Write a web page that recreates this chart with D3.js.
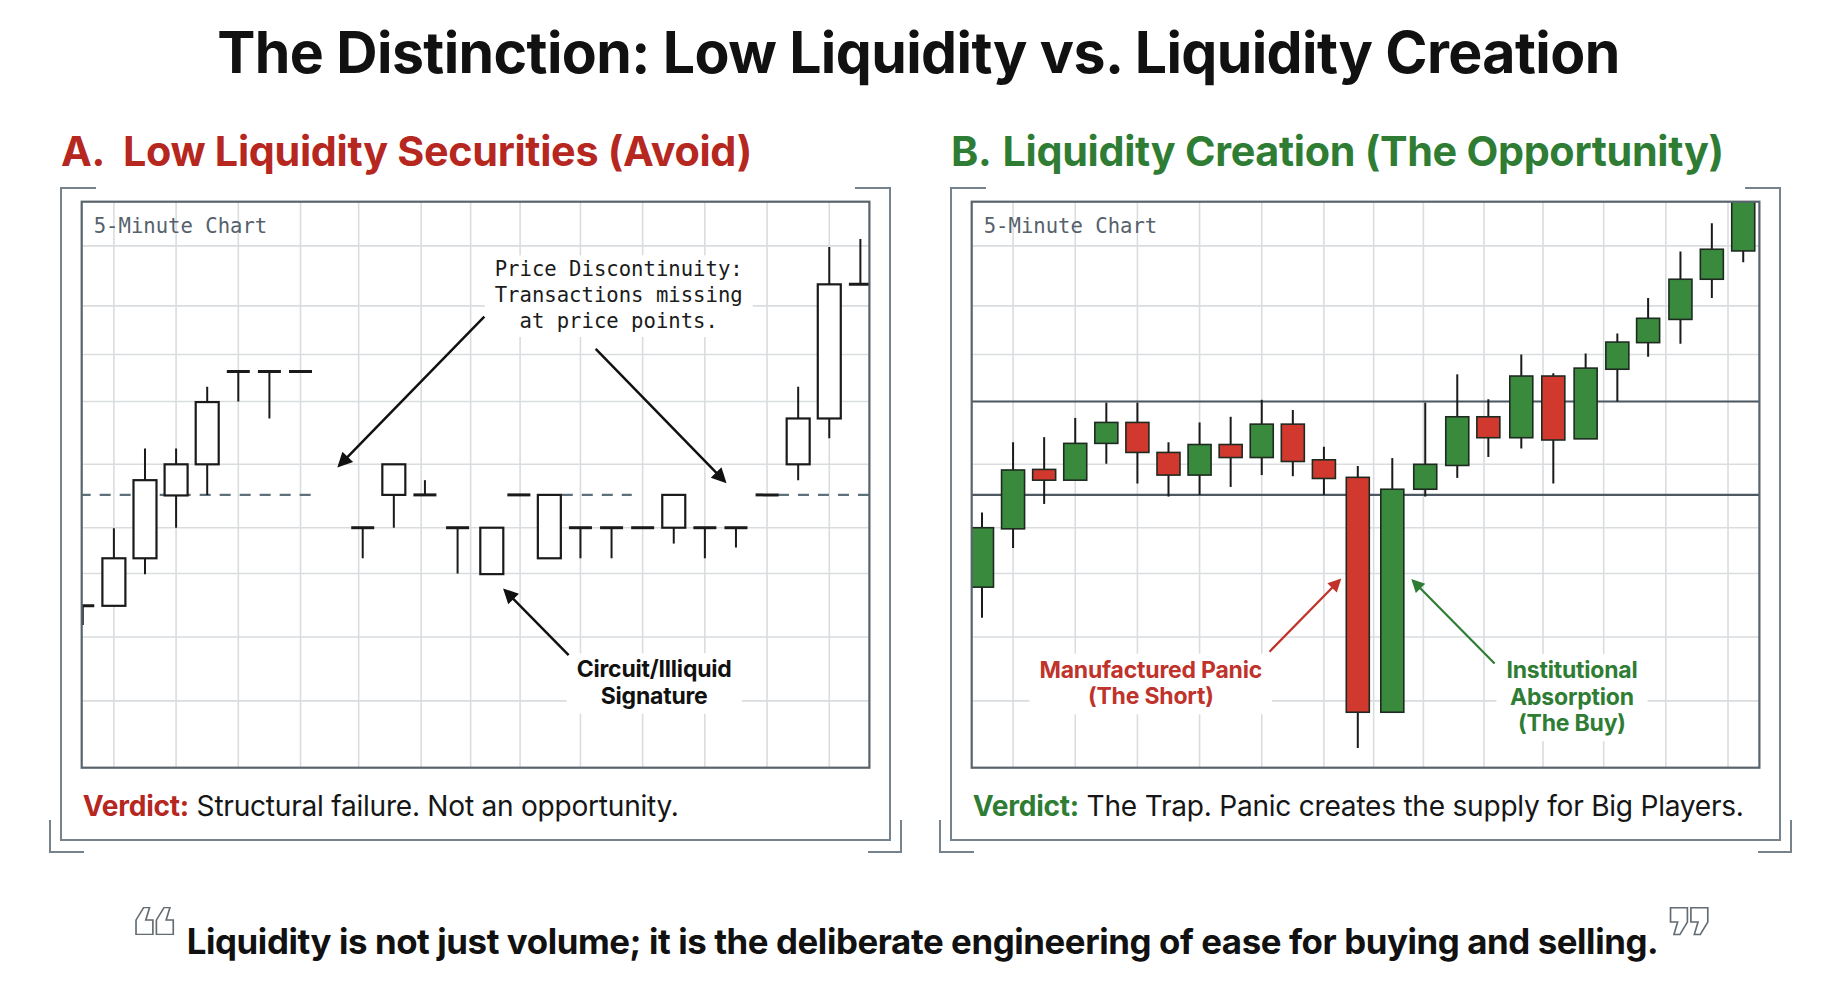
<!DOCTYPE html>
<html>
<head>
<meta charset="utf-8">
<script src="https://cdn.jsdelivr.net/npm/d3@7"></script>
<style>
  html, body { margin: 0; padding: 0; background: #fff; }
  svg { display: block; }
  svg text { font-family: Inter, Roboto, "Noto Sans", sans-serif; }
</style>
</head>
<body>
<div id="chart"></div>
<script>
// ---------- data ----------
var titleText = "The Distinction: Low Liquidity vs. Liquidity Creation";
var quoteText = "Liquidity is not just volume; it is the deliberate engineering of ease for buying and selling.";
var chartCaption = "5-Minute Chart";

// horizontal grid (price levels) shared by both panels
var priceTicks = [92.2, 81.6, 73.0, 64.7, 53.6, 42.4, 34.3, 23.1, 11.8];
// vertical grid (bar index) for each panel
var timeTicksA = [1, 3, 5, 7, 8.87, 10.88, 12.47, 14.06, 16, 18, 20, 22, 24];
var timeTicksB = [1, 3, 5, 7, 9, 11, 12.6, 14.2, 16.15, 18.05, 20, 22, 24];

// candles: [bar, open, high, low, close]
var lowLiqCandles = [
  [0, 28.6, 28.6, 25.2, 28.6],
  [1, 28.6, 42.3, 28.6, 37.0],
  [2, 37.0, 56.4, 34.2, 50.8],
  [3, 48.1, 56.4, 42.4, 53.6],
  [4, 53.6, 67.3, 48.2, 64.6],
  [5, 70.0, 70.0, 64.7, 70.0],
  [6, 70.0, 70.0, 61.7, 70.0],
  [7, 70.0, 70.0, 70.0, 70.0],
  [9, 42.4, 42.4, 37.0, 42.4],
  [10, 48.2, 53.6, 42.4, 53.6],
  [11, 48.2, 50.8, 48.2, 48.2],
  [12.05, 42.4, 42.4, 34.3, 42.4],
  [13.15, 42.4, 42.4, 34.2, 34.2],
  [14.02, 48.2, 48.2, 48.2, 48.2],
  [15, 48.2, 48.2, 37.0, 37.0],
  [16, 42.4, 42.4, 37.0, 42.4],
  [17, 42.4, 42.4, 37.0, 42.4],
  [18, 42.4, 42.4, 42.4, 42.4],
  [19, 42.4, 48.2, 39.6, 48.2],
  [20, 42.4, 42.4, 37.0, 42.4],
  [21, 42.4, 42.4, 38.9, 42.4],
  [22, 48.2, 48.2, 48.2, 48.2],
  [23, 53.6, 67.3, 50.8, 61.7],
  [24, 61.7, 92.0, 58.2, 85.4],
  [25, 85.4, 93.4, 85.4, 85.4]
];

var creationCandles = [
  [0, 31.9, 45.1, 26.5, 42.4],
  [1, 42.2, 57.5, 38.8, 52.6],
  [2, 52.7, 58.4, 46.6, 50.8],
  [3, 50.8, 61.8, 50.8, 57.3],
  [4, 57.3, 64.5, 53.7, 61.0],
  [5, 61.0, 64.5, 50.2, 55.7],
  [6, 55.7, 57.5, 47.9, 51.7],
  [7, 51.7, 61.0, 48.2, 57.1],
  [8, 57.1, 62.0, 49.6, 54.8],
  [9, 54.8, 65.0, 51.7, 60.7],
  [10, 60.7, 63.2, 51.5, 54.1],
  [11, 54.4, 56.7, 48.2, 51.1],
  [12.09, 51.3, 53.3, 3.5, 9.8],
  [13.2, 9.8, 54.7, 9.8, 49.2],
  [14.26, 49.2, 64.5, 47.9, 53.6],
  [15.29, 53.4, 69.5, 51.2, 62.0],
  [16.29, 62.0, 65.1, 54.9, 58.3],
  [17.35, 58.3, 73.0, 56.4, 69.2],
  [18.38, 69.2, 69.7, 50.2, 57.9],
  [19.42, 58.1, 73.2, 58.1, 70.6],
  [20.44, 70.4, 76.7, 64.7, 75.2],
  [21.43, 75.1, 83.0, 72.6, 79.4],
  [22.47, 79.2, 91.2, 74.9, 86.3],
  [23.48, 86.3, 96.2, 83.0, 91.6],
  [24.49, 91.3, 105, 89.3, 103]
];

// reference levels
var dashedLevel = 48.2;
var dashedSpans = [[-0.1, 7.45], [15.4, 17.65], [22.35, 25.4]];
var supportLevels = [64.7, 48.2];

// annotations: text lines anchored at [bar, price] (first baseline), arrows [from, to]
var labelsA = [
  { lines: ["Price Discontinuity:", "Transactions missing", "at price points."], at: [17.23, 86.8], kind: "mono", color: "#1b1b1b" },
  { lines: ["Circuit/Illiquid", "Signature"], at: [18.37, 16.0], kind: "bold", color: "#111" }
];
var arrowsA = [
  { from: [12.91, 79.7], to: [8.25, 53.4], color: "#111" },
  { from: [16.49, 74.0], to: [20.63, 50.65], color: "#111" },
  { from: [15.62, 19.9], to: [13.58, 31.3], color: "#111" }
];
var labelsB = [
  { lines: ["Manufactured Panic", "(The Short)"], at: [5.43, 15.9], kind: "bold", color: "#c0332b" },
  { lines: ["Institutional", "Absorption", "(The Buy)"], at: [18.98, 15.85], kind: "bold", color: "#2f7d34" }
];
var arrowsB = [
  { from: [9.25, 20.5], to: [11.5, 33.1], color: "#c0332b" },
  { from: [16.49, 18.4], to: [13.87, 33.0], color: "#2f7d34" }
];

// ---------- layout ----------
var W = 1837, H = 986;
var red = "#b5271f", green = "#2f7d34";
var innerTop = 201.7, innerBottom = 767.7;
var mono = "'DejaVu Sans Mono', monospace";

var panels = [
  { frameL: 61, frameR: 890, innerL: 81.7, innerR: 869.4, domain: [-0.035, 25.29],
    heading: ["A.", "Low Liquidity Securities (Avoid)"], headGap: 18, headColor: red,
    verdict: "Structural failure. Not an opportunity.",
    candles: lowLiqCandles, timeTicks: timeTicksA, labels: labelsA, arrows: arrowsA, hollow: true },
  { frameL: 951, frameR: 1780, innerL: 971.7, innerR: 1759.4, domain: [-0.331, 25.01],
    heading: ["B.", "Liquidity Creation (The Opportunity)"], headGap: 11, headColor: green,
    verdict: "The Trap. Panic creates the supply for Big Players.",
    candles: creationCandles, timeTicks: timeTicksB, labels: labelsB, arrows: arrowsB, hollow: false }
];

var svg = d3.select("#chart").append("svg")
  .attr("width", W).attr("height", H);

svg.append("rect").attr("width", W).attr("height", H).attr("fill", "#fff");

var defs = svg.append("defs");
["#111", "#c0332b", "#2f7d34"].forEach(function(c, i) {
  defs.append("marker")
    .attr("id", "arrow" + i)
    .attr("viewBox", "0 0 10 10")
    .attr("refX", 8).attr("refY", 5)
    .attr("markerWidth", 7).attr("markerHeight", 6)
    .attr("orient", "auto")
    .append("path")
    .attr("d", "M0,0 L10,5 L0,10 z")
    .attr("fill", c);
});
var markerFor = { "#111": "arrow0", "#c0332b": "arrow1", "#2f7d34": "arrow2" };

// main title
svg.append("text")
  .attr("x", W / 2).attr("y", 73)
  .attr("text-anchor", "middle")
  .attr("font-size", 57.2).attr("font-weight", 700)
  .attr("letter-spacing", -0.6)
  .attr("fill", "#111")
  .text(titleText);

var y = d3.scaleLinear().domain([0, 100]).range([innerBottom, innerTop]);

panels.forEach(function(P, pi) {
  var g = svg.append("g");
  var x = d3.scaleLinear().domain(P.domain).range([P.innerL, P.innerR]);

  // heading
  var head = g.append("text")
    .attr("x", P.frameL).attr("y", 166)
    .attr("font-size", 41.3).attr("font-weight", 700)
    .attr("letter-spacing", -0.3)
    .attr("fill", P.headColor);
  head.append("tspan").text(P.heading[0]);
  head.append("tspan").attr("dx", P.headGap).text(P.heading[1]);

  // outer frame: sides, bottom, top corner ticks, outside corner brackets
  var frame = g.append("g").attr("fill", "none").attr("stroke", "#77838c").attr("stroke-width", 2);
  frame.append("path").attr("d",
    "M" + (P.frameL + 35) + ",188 H" + P.frameL + " V840 H" + P.frameR + " V188 H" + (P.frameR - 35));
  frame.append("path").attr("d",
    "M" + (P.frameL - 11) + ",820 V852 H" + (P.frameL + 23));
  frame.append("path").attr("d",
    "M" + (P.frameR + 11) + ",820 V852 H" + (P.frameR - 22));

  // inner chart area
  var clipId = "clip" + pi;
  defs.append("clipPath").attr("id", clipId)
    .append("rect")
    .attr("x", P.innerL).attr("y", innerTop)
    .attr("width", P.innerR - P.innerL).attr("height", innerBottom - innerTop);

  var plot = g.append("g").attr("clip-path", "url(#" + clipId + ")");

  // grid
  plot.append("g").selectAll("line").data(priceTicks).join("line")
    .attr("x1", P.innerL).attr("x2", P.innerR)
    .attr("y1", d => y(d)).attr("y2", d => y(d))
    .attr("stroke", "#d9dde0").attr("stroke-width", 1.6);
  plot.append("g").selectAll("line").data(P.timeTicks).join("line")
    .attr("x1", d => x(d)).attr("x2", d => x(d))
    .attr("y1", innerTop).attr("y2", innerBottom)
    .attr("stroke", "#d9dde0").attr("stroke-width", 1.6);

  // reference lines
  if (P.hollow) {
    plot.append("g").selectAll("line").data(dashedSpans).join("line")
      .attr("x1", d => x(d[0])).attr("x2", d => x(d[1]))
      .attr("y1", y(dashedLevel)).attr("y2", y(dashedLevel))
      .attr("stroke", "#5e7079").attr("stroke-width", 2.2)
      .attr("stroke-dasharray", "11 9");
  } else {
    plot.append("g").selectAll("line").data(supportLevels).join("line")
      .attr("x1", P.innerL).attr("x2", P.innerR)
      .attr("y1", d => y(d)).attr("y2", d => y(d))
      .attr("stroke", "#4d5861").attr("stroke-width", 2.2);
  }

  // candles
  var bw = 23;
  var c = plot.append("g").selectAll("g").data(P.candles).join("g");
  c.append("line")
    .attr("x1", d => x(d[0])).attr("x2", d => x(d[0]))
    .attr("y1", d => y(d[2])).attr("y2", d => y(d[3]))
    .attr("stroke", "#1a1a1a").attr("stroke-width", 2);
  c.filter(d => d[1] !== d[4]).append("rect")
    .attr("x", d => x(d[0]) - bw / 2).attr("width", bw)
    .attr("y", d => y(Math.max(d[1], d[4])))
    .attr("height", d => Math.abs(y(d[1]) - y(d[4])))
    .attr("fill", d => P.hollow ? "#fff" : (d[4] > d[1] ? "#3a8a3d" : "#d2392e"))
    .attr("stroke", P.hollow ? "#1a1a1a" : "#1e2a20")
    .attr("stroke-width", P.hollow ? 2.2 : 1.6);
  c.filter(d => d[1] === d[4]).append("line")
    .attr("x1", d => x(d[0]) - bw / 2).attr("x2", d => x(d[0]) + bw / 2)
    .attr("y1", d => y(d[1])).attr("y2", d => y(d[1]))
    .attr("stroke", "#1a1a1a").attr("stroke-width", 3);

  // inner border
  g.append("rect")
    .attr("x", P.innerL).attr("y", innerTop)
    .attr("width", P.innerR - P.innerL).attr("height", innerBottom - innerTop)
    .attr("fill", "none").attr("stroke", "#58636c").attr("stroke-width", 2.2);

  g.append("text")
    .attr("x", P.innerL + 12).attr("y", 232.5)
    .style("font-family", mono)
    .attr("font-size", 20.6).attr("fill", "#55616b")
    .text(chartCaption);

  // annotation labels with white backing
  P.labels.forEach(function(L) {
    var lg = g.append("g");
    var isMono = L.kind === "mono";
    var lh = isMono ? 25.8 : 26.6;
    var t = lg.append("text")
      .attr("text-anchor", "middle")
      .attr("font-size", isMono ? 20.6 : 23)
      .attr("font-weight", isMono ? 400 : 700)
      .attr("letter-spacing", isMono ? 0 : -0.2)
      .attr("fill", L.color);
    if (isMono) t.style("font-family", mono);
    L.lines.forEach(function(s, i) {
      t.append("tspan").attr("x", x(L.at[0])).attr("y", y(L.at[1]) + i * lh).text(s);
    });
    var bb = t.node().getBBox();
    lg.insert("rect", "text")
      .attr("x", bb.x - 10).attr("y", bb.y - 2)
      .attr("width", bb.width + 20).attr("height", bb.height + 6)
      .attr("fill", "#fff");
  });

  // arrows
  P.arrows.forEach(function(A) {
    g.append("line")
      .attr("x1", x(A.from[0])).attr("y1", y(A.from[1]))
      .attr("x2", x(A.to[0])).attr("y2", y(A.to[1]))
      .attr("stroke", A.color)
      .attr("stroke-width", A.color === "#111" ? 2.5 : 2.2)
      .attr("marker-end", "url(#" + markerFor[A.color] + ")");
  });

  // verdict line
  var v = g.append("text")
    .attr("x", P.innerL + 1).attr("y", 816)
    .attr("font-size", 28.1).attr("fill", "#161616")
    .attr("letter-spacing", -0.25);
  v.append("tspan").attr("font-weight", 700).attr("fill", P.headColor).text("Verdict:");
  v.append("tspan").text(" " + P.verdict);
});

// closing quote line
svg.append("text")
  .attr("x", W / 2 + 4).attr("y", 954)
  .attr("text-anchor", "middle")
  .attr("font-size", 34.8).attr("font-weight", 700)
  .attr("letter-spacing", -0.4)
  .attr("fill", "#111")
  .text(quoteText);

// decorative quotation marks
[["\u275D", 128], ["\u275E", 1665]].forEach(function(q) {
  svg.append("text")
    .attr("transform", "translate(" + q[1] + ",966) scale(1.18,1)")
    .style("font-family", "'DejaVu Sans', sans-serif")
    .attr("font-size", 80)
    .attr("fill", "#fff").attr("stroke", "#646d73").attr("stroke-width", 1.4)
    .text(q[0]);
});
</script>
</body>
</html>
